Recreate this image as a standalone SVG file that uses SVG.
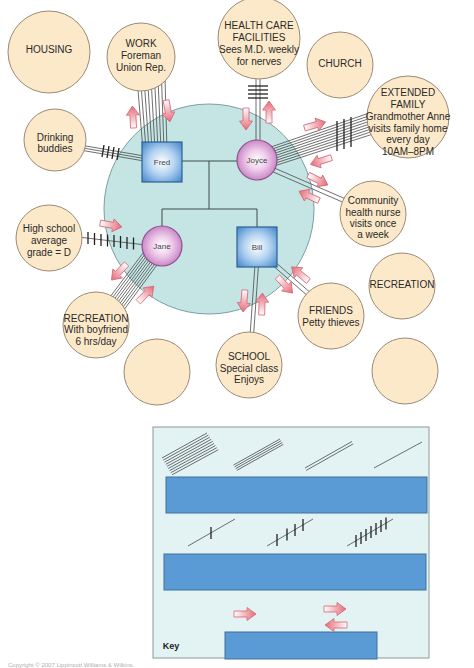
<svg xmlns="http://www.w3.org/2000/svg" width="474" height="668" viewBox="0 0 474 668">
<defs>
<radialGradient id="gSq" cx="50%" cy="50%" r="65%"><stop offset="0" stop-color="#ffffff"/><stop offset="0.5" stop-color="#b3d3f0"/><stop offset="1" stop-color="#4f8fd0"/></radialGradient>
<radialGradient id="gCi" cx="50%" cy="50%" r="55%"><stop offset="0" stop-color="#ffffff"/><stop offset="0.45" stop-color="#efcdea"/><stop offset="1" stop-color="#c37bc0"/></radialGradient>
<linearGradient id="gAr" x1="0" y1="0" x2="1" y2="0"><stop offset="0" stop-color="#ffffff"/><stop offset="1" stop-color="#e66a78"/></linearGradient>
<path id="arrow" d="M-11,-3 H2 V-6.5 L11,0 L2,6.5 V3 H-11 Z" fill="url(#gAr)" stroke="#d46474" stroke-width="0.8"/>
</defs>
<style>
.peach{fill:#fce9c9;stroke:#9b8a76;stroke-width:1}
.fam{fill:#c5e5e4;stroke:#7a9fa0;stroke-width:1}
.sq{fill:url(#gSq);stroke:#2e5f93;stroke-width:1.2}
.ci{fill:url(#gCi);stroke:#8e4f8c;stroke-width:1.2}
.ln{stroke:#4a4a4a;stroke-width:0.8;fill:none}
.hs{stroke:#222;stroke-width:1.3;fill:none}
.tree{stroke:#3a4a4a;stroke-width:1;fill:none}
text{font-family:"Liberation Sans",Arial,sans-serif;fill:#2a2a2a;text-anchor:middle}
.lb{font-size:10px}
.nm{font-size:8px;fill:#444}
.bar{fill:#5b9bd5;stroke:#41719c;stroke-width:1}
</style>

<g id="family-circle"><circle class="fam" cx="209" cy="209" r="105"/></g>

<g id="connectors">
<!-- family tree -->
<path class="tree" d="M182,161 H237 M209,161 V209 M162,209 H257 M162,209 V226 M257,209 V227"/>
<!-- Fred - WORK (very strong) -->
<g class="ln">
<line x1="137" y1="78" x2="143" y2="150"/><line x1="140.5" y1="78" x2="146" y2="150"/><line x1="144" y1="78" x2="149" y2="150"/><line x1="147.5" y1="78" x2="152" y2="150"/><line x1="151" y1="78" x2="155" y2="150"/><line x1="154.5" y1="78" x2="158" y2="150"/><line x1="158" y1="78" x2="161" y2="150"/><line x1="161.5" y1="78" x2="164" y2="150"/><line x1="165" y1="78" x2="167" y2="150"/>
</g>
<!-- Fred - Drinking buddies -->
<g class="ln"><line x1="80" y1="145" x2="150" y2="157"/><line x1="80" y1="147.5" x2="150" y2="159.5"/><line x1="80" y1="150" x2="150" y2="162"/></g>
<g class="hs"><line x1="104" y1="145" x2="102" y2="157"/><line x1="109" y1="146" x2="107" y2="158"/><line x1="114" y1="147" x2="112" y2="159"/><line x1="119" y1="148" x2="117" y2="160"/></g>
<!-- Joyce - Health care -->
<g class="ln"><line x1="256" y1="70" x2="256" y2="145"/><line x1="260" y1="70" x2="260" y2="145"/></g>
<g class="hs"><line x1="248" y1="86" x2="268" y2="86"/><line x1="248" y1="90" x2="268" y2="90"/><line x1="248" y1="94" x2="268" y2="94"/><line x1="248" y1="98" x2="268" y2="98"/></g>
<!-- Joyce - Extended family -->
<g class="ln">
<line x1="268" y1="148" x2="378" y2="110"/><line x1="268" y1="150.5" x2="378" y2="112.8"/><line x1="268" y1="153" x2="378" y2="115.6"/><line x1="268" y1="155.5" x2="378" y2="118.4"/><line x1="268" y1="158" x2="378" y2="121.2"/><line x1="268" y1="160.5" x2="378" y2="124"/><line x1="268" y1="163" x2="378" y2="126.8"/><line x1="268" y1="165.5" x2="378" y2="129.6"/><line x1="268" y1="168" x2="378" y2="132.4"/>
</g>
<g class="hs"><line x1="337" y1="121" x2="337" y2="151"/><line x1="344" y1="119" x2="344" y2="149"/><line x1="351" y1="117" x2="351" y2="147"/></g>
<!-- Joyce - Community nurse -->
<g class="ln"><line x1="272" y1="167" x2="348" y2="200"/><line x1="271" y1="171" x2="347" y2="204"/></g>
<!-- Jane - High school -->
<line class="ln" x1="78" y1="237" x2="146" y2="245"/>
<g class="hs"><line x1="88" y1="232" x2="88" y2="244"/><line x1="94.5" y1="233" x2="94.5" y2="245"/><line x1="101" y1="234" x2="101" y2="246"/><line x1="107.5" y1="234.5" x2="107.5" y2="246.5"/><line x1="114" y1="235" x2="114" y2="247"/><line x1="120.5" y1="236" x2="120.5" y2="248"/><line x1="127" y1="237" x2="127" y2="249"/><line x1="133.5" y1="237.5" x2="133.5" y2="249.5"/></g>
<!-- Jane - Recreation -->
<g class="ln">
<line x1="104" y1="305" x2="146" y2="249"/><line x1="106.2" y1="306" x2="148.1" y2="250"/><line x1="108.4" y1="307" x2="150.2" y2="251"/><line x1="110.6" y1="308" x2="152.3" y2="252"/><line x1="112.8" y1="309" x2="154.4" y2="253"/><line x1="115" y1="310" x2="156.5" y2="254"/><line x1="117.2" y1="311" x2="158.6" y2="255"/><line x1="119.4" y1="312" x2="160.7" y2="256"/><line x1="121.6" y1="313" x2="162.8" y2="257"/>
</g>
<!-- Bill - Friends -->
<g class="ln"><line x1="274" y1="261" x2="312" y2="294"/><line x1="271" y1="264" x2="309" y2="297"/></g>
<!-- Bill - School -->
<g class="ln"><line x1="255" y1="265" x2="250" y2="336"/><line x1="258.5" y1="265" x2="253.5" y2="336"/></g>
<!-- arrows -->
<use href="#arrow" transform="translate(133,117) rotate(-93)"/>
<use href="#arrow" transform="translate(168,111) rotate(80)"/>
<use href="#arrow" transform="translate(246,119) rotate(90)"/>
<use href="#arrow" transform="translate(269,112) rotate(-90)"/>
<use href="#arrow" transform="translate(315,125) rotate(-16)"/>
<use href="#arrow" transform="translate(321,161) rotate(162)"/>
<use href="#arrow" transform="translate(318,180) rotate(27)"/>
<use href="#arrow" transform="translate(309,196) rotate(-155)"/>
<use href="#arrow" transform="translate(111,225) rotate(10)"/>
<use href="#arrow" transform="translate(119,272) rotate(133)"/>
<use href="#arrow" transform="translate(146,294) rotate(-45)"/>
<use href="#arrow" transform="translate(285,285) rotate(47)"/>
<use href="#arrow" transform="translate(300,274) rotate(-140)"/>
<use href="#arrow" transform="translate(244,301) rotate(95)"/>
<use href="#arrow" transform="translate(262,304) rotate(-88)"/>
</g>

<g id="housing"><circle class="peach" cx="49" cy="52" r="41"/><text class="lb" x="49" y="53">HOUSING</text></g>
<g id="work"><circle class="peach" cx="141" cy="57" r="34"/><text class="lb" x="141" y="47">WORK</text><text class="lb" x="141" y="59">Foreman</text><text class="lb" x="141" y="71">Union Rep.</text></g>
<g id="health"><circle class="peach" cx="259" cy="38" r="41"/><text class="lb" x="259" y="29">HEALTH CARE</text><text class="lb" x="259" y="41">FACILITIES</text><text class="lb" x="259" y="53">Sees M.D. weekly</text><text class="lb" x="259" y="65">for nerves</text></g>
<g id="church"><circle class="peach" cx="340" cy="65" r="33"/><text class="lb" x="340" y="67">CHURCH</text></g>
<g id="extended"><circle class="peach" cx="408" cy="117" r="41"/><text class="lb" x="408" y="96">EXTENDED</text><text class="lb" x="408" y="108">FAMILY</text><text class="lb" x="408" y="120">Grandmother Anne</text><text class="lb" x="408" y="132">visits family home</text><text class="lb" x="408" y="143">every day</text><text class="lb" x="408" y="155">10AM–8PM</text></g>
<g id="drinking"><circle class="peach" cx="55" cy="140" r="31"/><text class="lb" x="55" y="141">Drinking</text><text class="lb" x="55" y="152">buddies</text></g>
<g id="nurse"><circle class="peach" cx="373" cy="214" r="33"/><text class="lb" x="373" y="204">Community</text><text class="lb" x="373" y="216">health nurse</text><text class="lb" x="373" y="227">visits once</text><text class="lb" x="373" y="238">a week</text></g>
<g id="highschool"><circle class="peach" cx="49" cy="238" r="33"/><text class="lb" x="49" y="232">High school</text><text class="lb" x="49" y="244">average</text><text class="lb" x="49" y="256">grade = D</text></g>
<g id="recreation-right"><circle class="peach" cx="402" cy="286" r="33"/><text class="lb" x="402" y="288">RECREATION</text></g>
<g id="friends"><circle class="peach" cx="331" cy="316" r="33"/><text class="lb" x="331" y="314">FRIENDS</text><text class="lb" x="331" y="326">Petty thieves</text></g>
<g id="recreation-left"><circle class="peach" cx="96" cy="325" r="33"/><text class="lb" x="96" y="322">RECREATION</text><text class="lb" x="96" y="333">With boyfriend</text><text class="lb" x="96" y="345">6 hrs/day</text></g>
<g id="school"><circle class="peach" cx="249" cy="365" r="33"/><text class="lb" x="249" y="360">SCHOOL</text><text class="lb" x="249" y="372">Special class</text><text class="lb" x="249" y="383">Enjoys</text></g>
<g id="empty-left"><circle class="peach" cx="157" cy="372" r="33"/></g>
<g id="empty-right"><circle class="peach" cx="405" cy="371" r="33"/></g>

<g id="fred"><rect class="sq" x="142" y="142" width="40" height="40"/><text class="nm" x="162" y="165">Fred</text></g>
<g id="joyce"><circle class="ci" cx="257" cy="160" r="20"/><text class="nm" x="257" y="163">Joyce</text></g>
<g id="jane"><circle class="ci" cx="162" cy="246" r="20"/><text class="nm" x="162" y="249">Jane</text></g>
<g id="bill"><rect class="sq" x="237" y="227" width="40" height="40"/><text class="nm" x="257" y="250">Bill</text></g>

<g id="key">
<rect x="153" y="427" width="276" height="231" fill="#e3f3f3" stroke="#8a9a9a" stroke-width="1"/>
<g class="ln">
<line x1="162" y1="458" x2="207" y2="433"/><line x1="163.25" y1="460.1" x2="208.4" y2="435.1"/><line x1="164.5" y1="462.2" x2="209.8" y2="437.2"/><line x1="165.75" y1="464.3" x2="211.2" y2="439.3"/><line x1="167" y1="466.4" x2="212.6" y2="441.4"/><line x1="168.25" y1="468.5" x2="214" y2="443.5"/><line x1="169.5" y1="470.6" x2="215.4" y2="445.6"/><line x1="170.75" y1="472.7" x2="216.8" y2="447.7"/><line x1="172" y1="474.8" x2="218.2" y2="449.8"/>
<line x1="233.5" y1="465" x2="280" y2="439"/><line x1="234.6" y1="466.8" x2="281.1" y2="440.8"/><line x1="235.7" y1="468.6" x2="282.2" y2="442.6"/><line x1="236.8" y1="470.4" x2="283.3" y2="444.4"/>
<line x1="305" y1="468" x2="352" y2="441.5"/><line x1="306.2" y1="470.4" x2="353.2" y2="443.9"/>
<line x1="374" y1="468" x2="422" y2="442"/>
<line x1="188" y1="546" x2="235" y2="519"/>
<line x1="267" y1="546" x2="313" y2="519"/>
<line x1="347" y1="546" x2="393" y2="519"/>
</g>
<g class="hs">
<line x1="211" y1="527" x2="211" y2="539"/>
<line x1="277" y1="534" x2="277" y2="546"/><line x1="287" y1="528.5" x2="287" y2="540.5"/><line x1="295" y1="524" x2="295" y2="536"/><line x1="303" y1="519" x2="303" y2="531"/>
<line x1="356" y1="535" x2="356" y2="547"/><line x1="361" y1="532" x2="361" y2="544"/><line x1="366" y1="529" x2="366" y2="541"/><line x1="371" y1="526" x2="371" y2="538"/><line x1="376" y1="523" x2="376" y2="535"/><line x1="381" y1="520" x2="381" y2="532"/><line x1="386" y1="517.5" x2="386" y2="529.5"/>
</g>
<rect class="bar" x="166" y="477" width="261" height="36"/>
<rect class="bar" x="164" y="554" width="262" height="36"/>
<rect class="bar" x="225" y="632" width="152" height="27"/>
<use href="#arrow" transform="translate(245,614)"/>
<use href="#arrow" transform="translate(335,609)"/>
<use href="#arrow" transform="translate(336,625) rotate(180)"/>
<text x="171" y="649" style="font-size:9px;font-weight:bold;fill:#222">Key</text>
</g>
<text x="8" y="667" style="font-size:6px;fill:#b0b0b0;text-anchor:start">Copyright © 2007 Lippincott Williams &amp; Wilkins.</text>
</svg>
